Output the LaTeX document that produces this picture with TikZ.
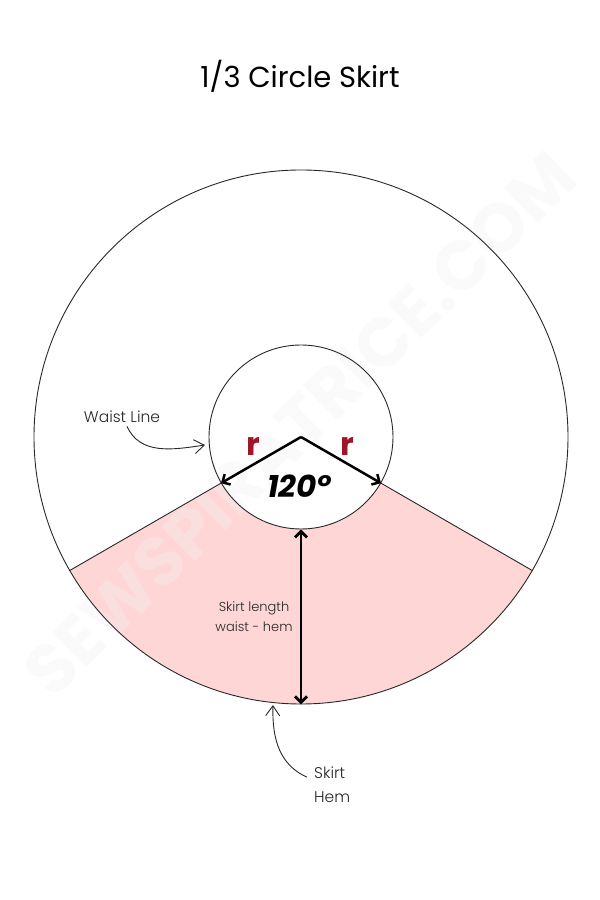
\documentclass[tikz,border=0pt]{standalone}
\usepackage{fontspec}
\setmainfont{Poppins}
\newfontfamily\lightfont{Poppins Light}
\usetikzlibrary{arrows.meta,calc}
\definecolor{skirtpink}{RGB}{255,214,214}
\definecolor{rred}{RGB}{158,22,40}
\definecolor{inkline}{RGB}{40,40,40}
\tikzset{
  outline/.style={draw=inkline, line width=0.9pt},
  bigarrow/.style={line width=2.8pt, {Straight Barb[length=6pt,width=12pt]}-{Straight Barb[length=6pt,width=12pt]}},
  radarrow/.style={line width=2.5pt, -{Straight Barb[length=6pt,width=12pt]}},
  pointer/.style={draw=inkline, line width=0.9pt, -{Straight Barb[length=10pt,width=14pt]}},
  lbl/.style={font=\lightfont\fontsize{15.5}{17}\selectfont, text=black!85, inner sep=0pt},
  small/.style={font=\lightfont\fontsize{13}{14}\selectfont, text=black!85, inner sep=0pt},
  rlabel/.style={font=\bfseries\fontsize{32}{34}\selectfont, text=rred, inner sep=0pt},
}
\begin{document}
\begin{tikzpicture}[x=1pt,y=1pt]
\useasboundingbox (0,0) rectangle (600,900);
\fill[white] (0,0) rectangle (600,900);
\coordinate (C) at (301,463);
% pink sector
\fill[skirtpink] ($(C)+(330:92)$) arc[start angle=330,end angle=210,radius=92]
  -- ($(C)+(210:267)$) arc[start angle=210,end angle=330,radius=267] -- cycle;
% watermark
\node[font=\bfseries\fontsize{69}{71}\selectfont, text=black!5, opacity=0.35, rotate=44.5, inner sep=0pt] (mark) at (300,476) {SEWSPIRATRICE.COM};
% circles
\node[outline, circle, minimum size=534pt, inner sep=0pt] (outer) at (C) {};
\node[outline, circle, minimum size=184pt, inner sep=0pt] (inner) at (C) {};
\draw[outline] (inner.210) -- (outer.210);
\draw[outline] (inner.330) -- (outer.330);
% radius arrows
\draw[radarrow] (C) -- (inner.210);
\draw[radarrow] (C) -- (inner.330);
\draw[bigarrow] (inner.south) -- (outer.south);
% texts
\node[font=\fontsize{29}{32}\selectfont, inner sep=0pt] (title) at (300,824) {1/3 Circle Skirt};
\node[rlabel] (rleft) at (253,454) {r};
\node[rlabel] (rright) at (347,454) {r};
\node[font=\bfseries\itshape\fontsize{31}{33}\selectfont, inner sep=0pt] (angle) at (299,414) {120°};
\node[lbl, anchor=base] (waist) at (122,477) {Waist Line};
\node[small, anchor=base] (len1) at (254,288) {Skirt length};
\node[small, anchor=base] (len2) at (254,268) {waist - hem};
\node[lbl, anchor=base west] (hem1) at (314,121) {Skirt};
\node[lbl, anchor=base west] (hem2) at (314,97) {Hem};
% pointers
\coordinate (wtip) at (205,455);
\coordinate (htip) at (273,195);
\draw[pointer] ([shift={(5pt,-3pt)}]waist.south) .. controls (140,445) and (172,450) .. (wtip);
\draw[pointer] ([shift={(-7pt,-4pt)}]hem1.west) .. controls (280,135) and (272,160) .. (htip);
\end{tikzpicture}
\end{document}
